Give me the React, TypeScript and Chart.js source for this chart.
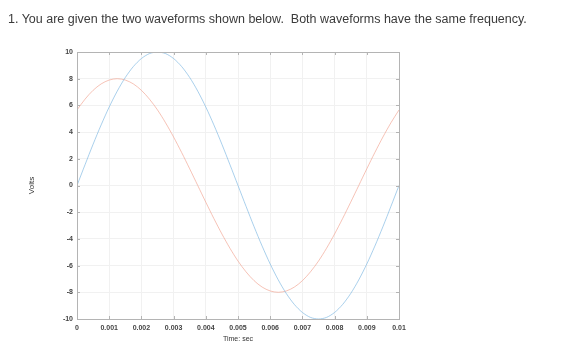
import React, { useEffect, useRef } from "react";
import { Chart, registerables } from "chart.js";

Chart.register(...registerables);

const timeValues = [
  0, 0.00025, 0.0005, 0.00075, 0.001, 0.00125, 0.0015, 0.00175, 0.002, 0.00225,
  0.0025, 0.00275, 0.003, 0.00325, 0.0035, 0.00375, 0.004, 0.00425, 0.0045, 0.00475,
  0.005, 0.00525, 0.0055, 0.00575, 0.006, 0.00625, 0.0065, 0.00675, 0.007, 0.00725,
  0.0075, 0.00775, 0.008, 0.00825, 0.0085, 0.00875, 0.009, 0.00925, 0.0095, 0.00975, 0.01,
];

const blueVolts = [
  0, 1.56, 3.09, 4.54, 5.88, 7.07, 8.09, 8.91, 9.51, 9.88,
  10, 9.88, 9.51, 8.91, 8.09, 7.07, 5.88, 4.54, 3.09, 1.56,
  0, -1.56, -3.09, -4.54, -5.88, -7.07, -8.09, -8.91, -9.51, -9.88,
  -10, -9.88, -9.51, -8.91, -8.09, -7.07, -5.88, -4.54, -3.09, -1.56, 0,
];

const redVolts = [
  5.66, 6.47, 7.13, 7.61, 7.9, 8, 7.9, 7.61, 7.13, 6.47,
  5.66, 4.7, 3.63, 2.47, 1.25, 0, -1.25, -2.47, -3.63, -4.7,
  -5.66, -6.47, -7.13, -7.61, -7.9, -8, -7.9, -7.61, -7.13, -6.47,
  -5.66, -4.7, -3.63, -2.47, -1.25, 0, 1.25, 2.47, 3.63, 4.7, 5.66,
];

const xTickLabels = ["0", "0.001", "0.002", "0.003", "0.004", "0.005", "0.006", "0.007", "0.008", "0.009", "0.01"];
const yTickLabels = ["-10", "-8", "-6", "-4", "-2", "0", "2", "4", "6", "8", "10"];

const titleText = "1. You are given the two waveforms shown below.  Both waveforms have the same frequency.";

const boxPlugin = {
  id: "boxPlugin",
  afterDraw(chart: any) {
    const { ctx, chartArea } = chart;
    ctx.save();
    ctx.strokeStyle = "#b4b4b4";
    ctx.lineWidth = 1;
    ctx.strokeRect(Math.round(chartArea.left) + 0.5, Math.round(chartArea.top) + 0.5,
      Math.round(chartArea.right - chartArea.left), Math.round(chartArea.bottom - chartArea.top));
    const xs = chart.scales.x;
    const ys = chart.scales.y;
    ctx.beginPath();
    xs.ticks.forEach((t: any) => {
      const px = Math.round(xs.getPixelForValue(t.value)) + 0.5;
      ctx.moveTo(px, chartArea.bottom);
      ctx.lineTo(px, chartArea.bottom - 3);
      ctx.moveTo(px, chartArea.top);
      ctx.lineTo(px, chartArea.top + 3);
    });
    ys.ticks.forEach((t: any) => {
      const py = Math.round(ys.getPixelForValue(t.value)) + 0.5;
      ctx.moveTo(chartArea.left, py);
      ctx.lineTo(chartArea.left + 3, py);
      ctx.moveTo(chartArea.right, py);
      ctx.lineTo(chartArea.right - 3, py);
    });
    ctx.stroke();
    ctx.restore();
  },
};

export default function App() {
  const canvasRef = useRef<HTMLCanvasElement | null>(null);

  useEffect(() => {
    if (!canvasRef.current) return;
    const tickFont = { family: "'Liberation Sans', Arial, sans-serif", size: 7, weight: "bold" as const };
    const chart = new Chart(canvasRef.current, {
      type: "line",
      data: {
        datasets: [
          {
            label: "v1",
            data: timeValues.map((t, i) => ({ x: t, y: blueVolts[i] })),
            borderColor: "rgba(120,180,225,0.7)",
            borderWidth: 0.9,
            pointRadius: 0,
            tension: 0.3,
          },
          {
            label: "v2",
            data: timeValues.map((t, i) => ({ x: t, y: redVolts[i] })),
            borderColor: "rgba(240,160,140,0.7)",
            borderWidth: 0.9,
            pointRadius: 0,
            tension: 0.3,
          },
        ],
      },
      options: {
        animation: false,
        responsive: false,
        maintainAspectRatio: false,
        layout: { padding: { left: 27, right: 168, top: 52, bottom: 20 } },
        plugins: { legend: { display: false }, tooltip: { enabled: false }, title: { display: false } },
        scales: {
          x: {
            type: "linear",
            min: 0,
            max: 0.01,
            ticks: {
              stepSize: 0.001,
              font: tickFont,
              color: "#444",
              padding: 5,
              maxRotation: 0,
              autoSkip: false,
              callback: (_v: any, i: number) => xTickLabels[i],
            },
            grid: { color: "#f1f1f1", drawTicks: false },
            border: { display: false },
            title: {
              display: true,
              text: "Time: sec",
              font: { family: "'Liberation Sans', Arial, sans-serif", size: 7 },
              color: "#333",
              padding: { top: 0, bottom: 0 },
            },
            afterFit: (s: any) => { s.height = 24; },
          },
          y: {
            type: "linear",
            min: -10,
            max: 10,
            ticks: {
              stepSize: 2,
              font: tickFont,
              color: "#444",
              padding: 4,
              callback: (_v: any, i: number) => yTickLabels[i],
            },
            grid: { color: "#f1f1f1", drawTicks: false },
            border: { display: false },
            title: {
              display: true,
              text: "Volts",
              font: { family: "'Liberation Sans', Arial, sans-serif", size: 8 },
              color: "#333",
              padding: 0,
            },
            afterFit: (s: any) => { s.width = 50; },
          },
        },
      },
      plugins: [boxPlugin],
    });
    return () => chart.destroy();
  }, []);

  return (
    <div style={{ position: "fixed", left: 0, top: 0, width: 567, height: 363, background: "#fff" }}>
      <canvas ref={canvasRef} width={567} height={363} style={{ position: "absolute", left: 0, top: 0, width: 567, height: 363 }} />
      <div
        style={{
          position: "absolute",
          left: 8,
          top: 12,
          fontFamily: "'Liberation Sans', Arial, sans-serif",
          fontSize: 12.5,
          color: "#3a3a3a",
          whiteSpace: "pre",
        }}
      >
        {titleText}
      </div>
    </div>
  );
}
